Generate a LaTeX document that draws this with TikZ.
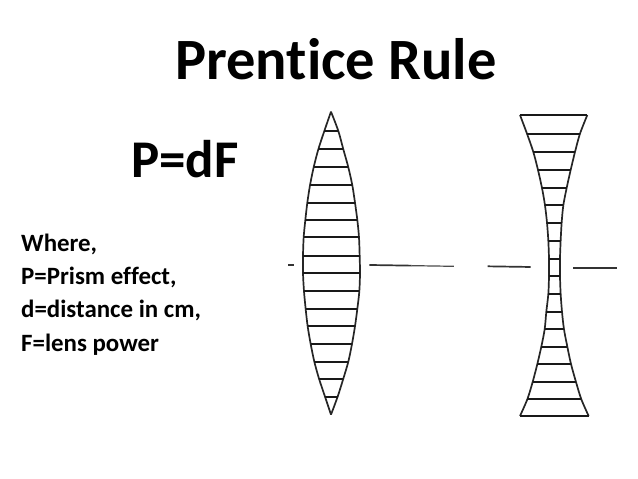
\documentclass[tikz,border=0pt]{standalone}
\usepackage{fontspec}
\setmainfont{Carlito}[Ligatures=NoCommon,Contextuals=NoAlternate]
\tikzset{
  txt/.style={inner sep=0pt,anchor=base west,font=\bfseries\fontsize{#1}{#1}\selectfont},
  rim/.style={line width=1.7pt,black!85,line join=miter},
  rung/.style={line width=1.9pt,black!90},
  axisline/.style={line width=1.7pt,black!80},
  zoomA/.style={shift={(280pt,-100pt)},x=0.3333pt,y=-0.3333pt},
  zoomB/.style={shift={(480pt,-100pt)},x=0.3333pt,y=-0.3333pt}
}
\begin{document}
\begin{tikzpicture}[x=1pt,y=-1pt]
\useasboundingbox (0,0) rectangle (638,479);
\node[txt=58.5] (title) at (175,79) {Prentice Rule};
\node[txt=53] (eq) at (131,177) {P=dF};
\node[txt=24.9] (l1) at (21,251) {Where,};
\node[txt=24.9] (l2) at (21,284.5) {P=Prism effect,};
\node[txt=24.9] (l3) at (21,317.5) {d=distance in cm,};
\node[txt=24.9] (l4) at (21,351) {F=lens power};
\begin{scope}[zoomA]
\draw[rim] plot[smooth,tension=0.5] coordinates {(153,35)(133,93)(115,148)(101,202)(90,256)(82,308)(76,360)(71,412)(69,467)(69,520)(72,574)(77,627)(83,679)(92,732)(103,785)(117,836)(135,890)(153,944)};
\draw[rim] plot[smooth,tension=0.5] coordinates {(153,35)(175,93)(190,148)(205,202)(217,256)(225,308)(232,360)(237,412)(239,467)(240,520)(238,574)(232,627)(225,679)(216,732)(205,785)(190,836)(173,890)(153,944)};
\foreach \y/\a/\b in {93/133/175,148/115/190,202/101/205,256/90/217,308/82/225,360/76/232,412/71/237,467/69/239,520/69/240,574/72/238,627/77/232,679/83/225,732/92/216,785/103/205,836/117/190,890/135/173}
  \draw[rung] (\a,\y) -- (\b,\y);
\draw[axisline] (24,495) -- (42,495);
\draw[axisline] (268,495) -- (395,497);
\draw[line width=1.2pt,black!70] (395,497) -- (522,499);
\end{scope}
\begin{scope}[zoomB]
\draw[rim] plot[smooth,tension=0.5] coordinates {(120,45)(141,101)(160,156)(174,210)(186,264)(195,316)(201,368)(205,422)(207,476)(207,529)(205,582)(199,635)(194,688)(184,740)(172,792)(158,846)(142,898)(120,948)};
\draw[rim] plot[smooth,tension=0.5] coordinates {(322,45)(300,101)(285,156)(272,210)(260,264)(250,316)(245,368)(242,422)(240,476)(240,529)(242,582)(246,635)(252,688)(262,740)(273,792)(288,846)(304,898)(326,948)};
\foreach \y/\a/\b in {45/120/322,101/141/300,156/160/285,210/174/272,264/186/260,316/195/250,368/201/245,422/205/242,476/207/240,529/207/240,582/205/242,635/199/246,688/194/252,740/184/262,792/172/273,846/158/288,898/142/304,948/120/326}
  \draw[rung] (\a,\y) -- (\b,\y);
\draw[axisline] (23,499) -- (152,501);
\draw[axisline] (280,504) -- (412,504);
\end{scope}
\end{tikzpicture}
\end{document}
